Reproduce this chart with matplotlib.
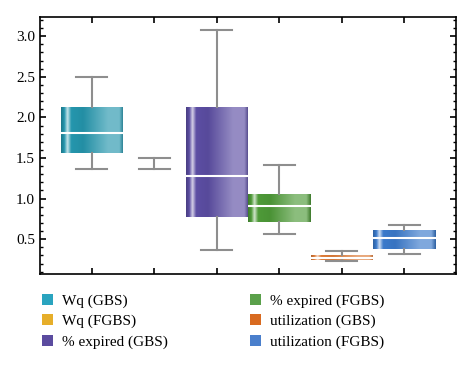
import matplotlib.pyplot as plt
import numpy as np
from matplotlib.colors import LinearSegmentedColormap, to_rgb
from matplotlib.patches import Patch
from matplotlib.ticker import MultipleLocator

plt.rcParams['font.family'] = ['Liberation Serif', 'DejaVu Serif']

labels = ['Wq (GBS)', 'Wq (FGBS)', '% expired (GBS)',
          '% expired (FGBS)', 'utilization (GBS)', 'utilization (FGBS)']
whis_low = [1.37, 1.37, 0.37, 0.56, 0.235, 0.32]
q1 = [1.56, 1.37, 0.77, 0.71, 0.243, 0.38]
median = [1.81, 1.37, 1.275, 0.905, 0.272, 0.51]
q3 = [2.13, 1.37, 2.13, 1.06, 0.30, 0.61]
whis_high = [2.50, 1.50, 3.08, 1.41, 0.358, 0.68]
colors = ['#2596ad', '#e3aa24', '#5c4ea3', '#4e9a38', '#dd7a36', '#3b7acb']
legend_colors = ['#2aa4bf', '#e6ae2a', '#5b4b9f', '#5aa04a', '#d86a20', '#4a7fcc']

fig = plt.figure(figsize=(4.74, 3.65), dpi=100)
ax = fig.add_axes([0.0844, 0.249, 0.878, 0.704])

stats = [dict(whislo=a, q1=b, med=c, q3=d, whishi=e, fliers=[])
         for a, b, c, d, e in zip(whis_low, q1, median, q3, whis_high)]
pos = np.arange(1, len(labels) + 1)
bp = ax.bxp(stats, positions=pos, widths=1.0, patch_artist=True,
            showfliers=False,
            boxprops=dict(edgecolor='none', facecolor='none', linewidth=0),
            whiskerprops=dict(color='#8e8e8e', linewidth=1.5),
            capprops=dict(color='#8e8e8e', linewidth=1.5),
            capwidths=0.5,
            medianprops=dict(color='white', linewidth=1.5))

# shaded cylinder-like fill for each box
grad = np.linspace(0, 1, 200).reshape(1, -1)
for patch, c in zip(bp['boxes'], colors):
    base = np.array(to_rgb(c))
    light = base + (1 - base) * 0.75
    dark = base * 0.8
    soft = base + (1 - base) * 0.35
    cmap = LinearSegmentedColormap.from_list('g', [
        (0.0, dark), (0.05, base), (0.1, light), (0.16, base),
        (0.35, base * 0.95), (0.75, soft), (0.93, soft), (1.0, dark)])
    verts = patch.get_path().vertices
    x0, x1 = verts[:, 0].min(), verts[:, 0].max()
    y0, y1 = verts[:, 1].min(), verts[:, 1].max()
    if y1 - y0 < 1e-6:
        continue
    im = ax.imshow(grad, extent=[x0, x1, y0, y1], aspect='auto', cmap=cmap,
                   zorder=1.5, interpolation='bilinear')
    im.set_clip_path(patch)

for m in bp['medians']:
    m.set_zorder(2.5)
for cp in bp['caps']:
    cp.set_zorder(3)

ax.set_xlim(0.17, 6.83)
ax.set_ylim(0.07, 3.235)
ax.set_xticks(pos)
ax.set_xticklabels([])
ax.yaxis.set_major_locator(MultipleLocator(0.5))
ax.yaxis.set_minor_locator(MultipleLocator(0.1))
ax.yaxis.set_major_formatter(plt.FormatStrFormatter('%.1f'))
ax.tick_params(axis='both', which='major', direction='in', length=4, width=1.2,
               top=True, right=True, labelsize=11, color='black')
ax.tick_params(axis='y', which='minor', direction='in', length=2, width=1,
               right=True, left=True)
for s in ax.spines.values():
    s.set_linewidth(1.2)

handles = [Patch(facecolor=c, edgecolor='none') for c in legend_colors]
fig.legend(handles, labels, ncol=2, frameon=False, fontsize=11,
           loc='upper left', bbox_to_anchor=(0.075, 0.212),
           handlelength=0.75, handleheight=0.75, handletextpad=0.55,
           labelspacing=0.42, columnspacing=5.4, borderaxespad=0)

fig.savefig('out.png', dpi=100)
